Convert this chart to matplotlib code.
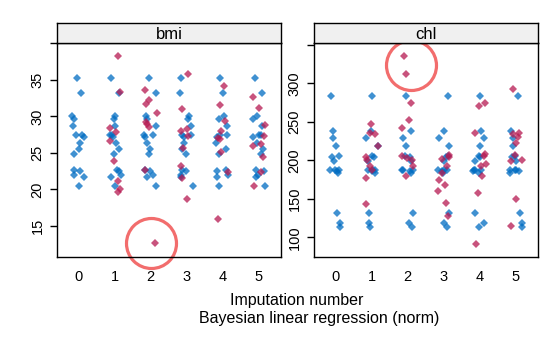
import numpy as np
import matplotlib.pyplot as plt

plt.rcParams['font.family'] = ['Liberation Sans', 'DejaVu Sans']

# imputation numbers, 0 = observed data only
imputations = [0, 1, 2, 3, 4, 5]

# observed values (nhanes)
bmi_obs = [22.7, 20.4, 22.5, 30.1, 22.0, 21.7, 28.7, 29.6, 27.2, 26.3,
           35.3, 25.5, 33.2, 27.5, 24.9, 27.4]
chl_obs = [187, 187, 113, 184, 118, 187, 238, 206, 204, 284, 199, 218,
           229, 131, 186]

# imputed values, one list per imputation 1..5
bmi_imp = [
    [38.2, 33.3, 28.4, 27.9, 26.6, 23.9, 21.1, 20.1, 19.7],
    [33.6, 32.2, 31.7, 30.4, 29.2, 28.9, 28.5, 22.6, 12.6],
    [35.8, 31.0, 28.3, 28.0, 27.3, 25.6, 23.2, 21.6, 18.7],
    [34.1, 31.5, 29.4, 28.0, 27.1, 26.9, 25.1, 22.4, 16.0],
    [32.6, 31.2, 28.8, 27.3, 26.2, 25.9, 24.5, 22.4, 20.4],
]
chl_imp = [
    [247, 236, 234, 219, 204, 200, 193, 188, 177, 143],
    [336, 312, 274, 253, 242, 206, 203, 200, 193, 179],
    [207, 204, 202, 193, 183, 175, 168, 160, 144, 128],
    [275, 271, 235, 208, 205, 195, 192, 179, 158, 91],
    [292, 235, 234, 230, 222, 207, 201, 199, 150, 115],
]

obs_col = '#006CC2'
imp_col = '#B61A51'
ring_col = '#F26D6D'

rng = np.random.default_rng(11)


def jit(n):
    return rng.uniform(-0.18, 0.18, n)


def strip_panel(ax, obs, imps, ylim, yticks, name):
    for i in imputations:
        ax.plot(i + jit(len(obs)), obs, 'D', ms=4.2, mew=0,
                color=obs_col, alpha=0.75)
    for i, vals in zip(imputations[1:], imps):
        ax.plot(i + jit(len(vals)), vals, 'D', ms=4.2, mew=0,
                color=imp_col, alpha=0.75)
    ax.set_xlim(-0.6, 5.62)
    ax.set_ylim(*ylim)
    ax.set_xticks(imputations)
    ax.set_yticks(yticks)
    ax.set_yticklabels([str(t) for t in yticks[:-1]] + [''],
                       rotation=90, va='center')
    ax.tick_params(axis='x', length=0, pad=9, labelsize=10.5)
    ax.tick_params(axis='y', length=5, width=1, pad=4, labelsize=10.5)
    for s in ax.spines.values():
        s.set_linewidth(1)

    # strip with the variable name on top of the panel
    pos = ax.get_position()
    st = fig.add_axes([pos.x0, pos.y1, pos.width, 20 / 348])
    st.set_facecolor('#f0f0f0')
    st.set_xticks([])
    st.set_yticks([])
    for s in st.spines.values():
        s.set_linewidth(1)
    st.text(0.5, 0.45, name, ha='center', va='center', fontsize=12,
            transform=st.transAxes)


fig = plt.figure(figsize=(5.53, 3.48), dpi=100)
H = 348
W = 553
ax1 = fig.add_axes([57 / W, 1 - 257.3 / H, 224 / W, 214 / H])
ax2 = fig.add_axes([314 / W, 1 - 257.3 / H, 224 / W, 214 / H])

strip_panel(ax1, bmi_obs, bmi_imp, (10.7, 40.0), [15, 20, 25, 30, 35, 40], 'bmi')
strip_panel(ax2, chl_obs, chl_imp, (74, 352), [100, 150, 200, 250, 300, 350], 'chl')

# rings around the implausible imputations
ax1.plot(2, min(bmi_imp[1]), 'o', ms=36, mfc='none', mec=ring_col,
         mew=2.3, clip_on=False)
ax2.plot(2.1, np.mean(sorted(chl_imp[1])[-2:]), 'o', ms=36, mfc='none',
         mec=ring_col, mew=2.3, clip_on=False)

fig.text(296.5 / W, 1 - 300.7 / H, 'Imputation number', ha='center',
         va='center', fontsize=11.5)
fig.text(319 / W, 1 - 319 / H, 'Bayesian linear regression (norm)',
         ha='center', va='center', fontsize=11.5)

fig.savefig('out.png', dpi=100)
